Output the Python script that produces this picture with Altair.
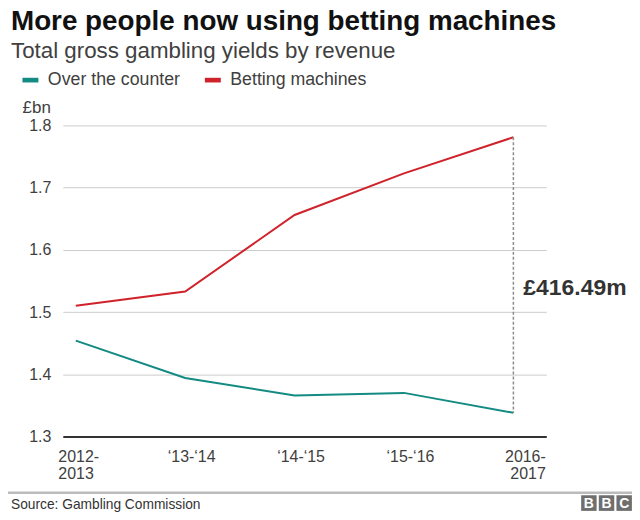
import altair as alt
import pandas as pd

# ---- data ----
categories = ["2012-\n2013", "\u201813-\u201814", "\u201814-\u201815", "\u201815-\u201816", "2016-\n2017"]
over_the_counter = [1.454, 1.394, 1.366, 1.370, 1.338]
betting_machines = [1.510, 1.533, 1.656, 1.723, 1.781]
series_names = ["Over the counter", "Betting machines"]
series_colors = ["#138a82", "#d0222b"]
y_ticks = [1.3, 1.4, 1.5, 1.6, 1.7, 1.8]
gap_label = "\u00a3416.49m"

title_text = "More people now using betting machines"
subtitle_text = "Total gross gambling yields by revenue"
source_text = "Source: Gambling Commission"
unit_text = "\u00a3bn"

FONT = "Liberation Sans"

rows = []
for name, vals in zip(series_names, [over_the_counter, betting_machines]):
    for i, (c, v) in enumerate(zip(categories, vals)):
        rows.append({"idx": i, "period": c, "series": name, "value": v})
df = pd.DataFrame(rows)

n = len(categories)
last = n - 1
x_scale = alt.Scale(domain=[-0.1185, last + 0.3006], nice=False, zero=False)
y_scale = alt.Scale(domain=[1.3, 1.8], nice=False, zero=False)

# label lookup expression built from the category list
label_arr = "[" + ",".join(
    "[" + ",".join("'" + part + "'" for part in c.split("\n")) + "]" for c in categories
) + "]"
label_expr = label_arr + "[round(datum.value)]"

lines = alt.Chart(df).mark_line(strokeWidth=2).encode(
    x=alt.X("idx:Q", scale=x_scale,
            axis=alt.Axis(title=None, values=list(range(n)), ticks=False, grid=False,
                          domain=True, domainColor="#333333", domainWidth=2, labelAngle=0,
                          labelFontSize=16, labelColor="#404040", labelFont=FONT,
                          labelPadding=12, labelLineHeight=17, labelBaseline="top",
                          labelExpr=label_expr, labelFlush=False, labelOverlap=False,
                          labelAlign={"condition": {"test": f"datum.value === {last}", "value": "right"}, "value": "left"},
                          labelOffset={"condition": {"test": f"datum.value === {last}", "value": 32}, "value": -18},
                          zindex=1)),
    y=alt.Y("value:Q", scale=y_scale,
            axis=alt.Axis(values=y_ticks, format=".1f", ticks=False, domain=False,
                          grid=True, gridColor="#cccccc", gridWidth=1,
                          labelFontSize=16, labelColor="#404040", labelFont=FONT,
                          labelPadding=12,
                          title=unit_text, titleAngle=0, titleX=-12.5, titleY=-13,
                          titleAlign="right", titleBaseline="alphabetic",
                          titleFontSize=17, titleFontWeight="normal",
                          titleColor="#404040", titleFont=FONT)),
    color=alt.Color("series:N",
                    scale=alt.Scale(domain=series_names, range=series_colors),
                    legend=alt.Legend(orient="none", legendX=-43, legendY=-56,
                                      direction="horizontal", title=None,
                                      symbolType="stroke", symbolSize=256,
                                      symbolStrokeWidth=4.7, labelFontSize=17.8,
                                      labelColor="#404040", labelFont=FONT,
                                      labelOffset=7, columnPadding=15, padding=0)),
)

gap_df = pd.DataFrame({
    "idx": [last],
    "top": [betting_machines[-1]],
    "bottom": [over_the_counter[-1]],
    "mid": [(betting_machines[-1] + over_the_counter[-1]) / 2],
    "label": [gap_label],
})

gap_rule = alt.Chart(gap_df).mark_rule(color="#8c8c8c", strokeWidth=1.5, strokeDash=[3, 2]).encode(
    x=alt.X("idx:Q", scale=x_scale),
    y=alt.Y("top:Q", scale=y_scale),
    y2="bottom:Q",
)

gap_text = alt.Chart(gap_df).mark_text(align="left", baseline="middle", dx=10, dy=13,
                                       fontSize=23, fontWeight="bold", color="#333333",
                                       font=FONT).encode(
    x=alt.X("idx:Q", scale=x_scale),
    y=alt.Y("mid:Q", scale=y_scale),
    text="label:N",
)


def free_text(txt, x, y, size, weight="normal", color="#404040", align="left", baseline="alphabetic"):
    return alt.Chart(pd.DataFrame({"t": [txt]})).mark_text(
        align=align, baseline=baseline, fontSize=size, fontWeight=weight,
        color=color, font=FONT).encode(text="t:N", x=alt.value(x), y=alt.value(y))


title = free_text(title_text, -52, -95.5, 27.9, weight="bold", color="#111111")
subtitle = free_text(subtitle_text, -52, -68, 22.4)
source = free_text(source_text, -52, 384.5, 13.8, color="#333333")

footer_line = alt.Chart(pd.DataFrame({"a": [0]})).mark_rule(color="#bbbbbb", strokeWidth=2.5).encode(
    x=alt.value(-55), x2=alt.value(575), y=alt.value(368.5))

logo_layers = []
for i, letter in enumerate(["B", "B", "C"]):
    x0 = 520 + i * 17.7
    logo_layers.append(
        alt.Chart(pd.DataFrame({"a": [0]})).mark_rect(color="#6f6f6f").encode(
            x=alt.value(x0), x2=alt.value(x0 + 15.5), y=alt.value(371), y2=alt.value(386.7)))
    logo_layers.append(
        alt.Chart(pd.DataFrame({"t": [letter]})).mark_text(
            align="center", baseline="middle", fontSize=14, fontWeight="bold",
            color="white", font=FONT).encode(
            text="t:N", x=alt.value(x0 + 7.75), y=alt.value(379.5)))

chart = alt.layer(
    lines, gap_rule, gap_text, title, subtitle, source, footer_line, *logo_layers
).properties(
    width=485, height=312,
    autosize="none",
    padding={"left": 55, "top": 117, "right": 86, "bottom": 75},
    background="white",
).configure_view(strokeWidth=0)

chart.save("out.html", embed_options={"renderer": "svg", "actions": False})
